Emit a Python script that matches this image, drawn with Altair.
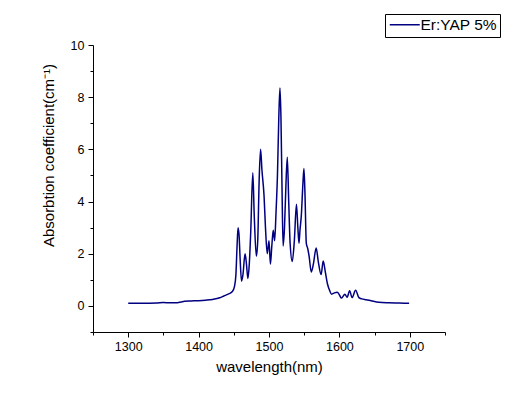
import altair as alt
import pandas as pd

wavelength = [1300, 1320, 1340, 1350, 1360, 1370, 1375, 1380, 1390, 1400, 1410, 1420,
              1430, 1436, 1442, 1448, 1451, 1453, 1454.5, 1456, 1457.5, 1459, 1461,
              1463, 1466, 1468, 1470, 1472, 1474, 1477, 1479, 1482, 1484, 1486, 1488,
              1490, 1493, 1495, 1497.5, 1500, 1502, 1504, 1506, 1508, 1510, 1512, 1514,
              1515.6, 1517, 1518.5, 1520, 1522, 1524, 1526, 1528, 1530, 1533, 1536,
              1539, 1541, 1542.6, 1544, 1546, 1548, 1549.6, 1551, 1553, 1555, 1557,
              1560, 1563, 1567, 1570, 1574, 1577, 1580, 1583, 1586, 1589, 1593, 1597,
              1600, 1603, 1607.8, 1611, 1614.5, 1618, 1623, 1627.7, 1632, 1638, 1645,
              1656, 1670, 1685, 1699]
absorption = [0.10, 0.10, 0.11, 0.13, 0.12, 0.12, 0.15, 0.18, 0.19, 0.20, 0.22, 0.25,
              0.31, 0.38, 0.45, 0.55, 0.75, 1.2, 2.2, 3.0, 2.7, 1.8, 0.95,
              1.2, 2.0, 1.6, 1.05, 1.6, 2.8, 5.1, 3.5, 1.9, 2.5, 4.8, 6.0,
              5.2, 4.2, 3.0, 2.0, 2.5, 1.6, 2.3, 2.9, 2.5, 3.6, 5.0, 7.3,
              8.35, 7.2, 4.5, 2.3, 3.0, 4.6, 5.7, 4.0, 2.4, 1.7, 2.5,
              3.9, 3.0, 2.4, 2.9, 3.5, 4.6, 5.27, 4.4, 2.4, 2.2, 1.9,
              1.3, 1.6, 2.22, 1.7, 1.2, 1.72, 1.3, 0.85, 0.6, 0.45, 0.5, 0.52,
              0.42, 0.3, 0.45, 0.33, 0.58, 0.32, 0.6, 0.32, 0.27, 0.24, 0.2,
              0.14, 0.12, 0.11, 0.10]
series_name = "Er:YAP 5%"

x_major = [1300, 1400, 1500, 1600, 1700]
x_minor = [1250, 1350, 1450, 1550, 1650, 1750]
y_major = [0, 2, 4, 6, 8, 10]
y_minor = [-1, 1, 3, 5, 7, 9]

df = pd.DataFrame({
    "wavelength": wavelength,
    "absorption": absorption,
    "series": [series_name] * len(wavelength),
})

FONT = "Liberation Sans"
x_scale = alt.Scale(domain=[1250, 1750], nice=False, zero=False)
y_scale = alt.Scale(domain=[-1, 10], nice=False, zero=False)

common_axis = dict(grid=False, domainColor="black", tickColor="black",
                   labelColor="black", labelFont=FONT, titleFont=FONT,
                   titleColor="black", titleFontWeight="normal")

line = alt.Chart(df).mark_line(strokeWidth=1.5, interpolate="monotone").encode(
    x=alt.X("wavelength:Q", scale=x_scale,
            axis=alt.Axis(values=x_major, orient="bottom", title="wavelength(nm)",
                          format="d", tickSize=5, labelFontSize=12.5, labelPadding=3,
                          titleFontSize=15, titlePadding=7, domainWidth=1,
                          **common_axis)),
    y=alt.Y("absorption:Q", scale=y_scale,
            axis=alt.Axis(values=y_major, orient="left", format="d",
                          title="Absorbtion coefficient(cm⁻¹)",
                          tickSize=5, labelFontSize=12.5, labelPadding=4,
                          titleFontSize=15, titleX=-37, titleY=110,
                          **common_axis)),
    color=alt.Color("series:N", scale=alt.Scale(range=["#000080"]),
                    legend=alt.Legend(title=None, orient="none", legendX=292,
                                      legendY=-31, strokeColor="black",
                                      fillColor="white", padding=3,
                                      cornerRadius=0, symbolType="M-3,0H3",
                                      symbolSize=100, symbolOffset=9,
                                      symbolStrokeWidth=1.5,
                                      labelFont=FONT, labelFontSize=15.5,
                                      labelColor="black", labelOffset=8,
                                      labelLimit=300)),
)

minor = alt.Chart(df).mark_point(opacity=0).encode(
    x=alt.X("wavelength:Q", scale=x_scale,
            axis=alt.Axis(values=x_minor, orient="bottom", title="", labels=False,
                          domain=False, tickSize=3, **common_axis)),
    y=alt.Y("absorption:Q", scale=y_scale,
            axis=alt.Axis(values=y_minor, orient="left", title="", labels=False,
                          domain=False, tickSize=3, **common_axis)),
)

chart = alt.layer(line, minor).resolve_axis(
    x="independent", y="independent"
).properties(
    width=352, height=287,
    autosize=alt.AutoSizeParams(type="none"),
    padding={"left": 85, "top": 37, "right": 66, "bottom": 54},
    background="white",
).configure_view(stroke="transparent")

chart.save("out.html", embed_options={"renderer": "svg", "actions": False})
